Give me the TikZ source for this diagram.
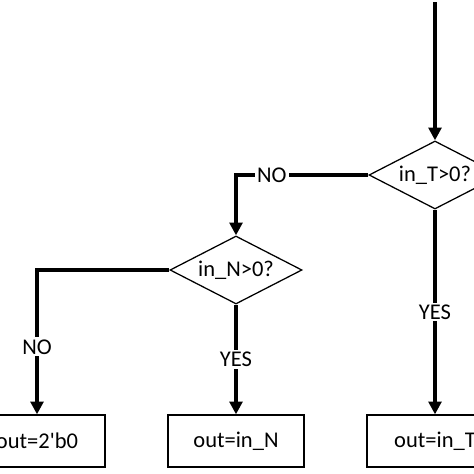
\documentclass[tikz,border=0pt]{standalone}
\usepackage{fontspec}
\setmainfont{Carlito}
\usetikzlibrary{shapes.geometric,arrows.meta,positioning}

\begin{document}
\begin{tikzpicture}[
  x=0.025cm, y=-0.025cm,
  decision/.style={draw,diamond,aspect=2,inner sep=0pt,line width=0.9pt,
    minimum width=3.3cm,minimum height=1.7cm,font=\fontsize{16}{18}\selectfont},
  outbox/.style={draw,rectangle,line width=0.9pt,minimum width=3.4cm,
    minimum height=1.3cm,font=\fontsize{16}{18}\selectfont},
  flow/.style={line width=2.6pt,-{Triangle[length=0.32cm,width=0.32cm]}},
  ]
  \tikzset{%
    on line/.style={
      fill=white,
      inner sep=1.5pt,
      font=\fontsize{16}{18}\selectfont,
    },
  }
  \useasboundingbox (0,0) rectangle (474,474);
  \clip (0,0) rectangle (474,474);
  %Nodes
  \coordinate (start) at (435,2);
  \node[decision](dT) at (435,175){in\_T>0?};
  \node[decision](dN) at (236,270){in\_N>0?};
  \node[outbox](b0) at (37,441){out=2\textquotesingle b0};
  \node[outbox](bN) at (236,441){out=in\_N};
  \node[outbox](bT) at (435,441){out=in\_T};
  %Lines
  \draw[flow] (start) -- (dT.north);
  \draw[flow] (dT.west) -| node[on line,pos=0.365]{NO} (dN.north);
  \draw[flow] (dT.south) -- node[on line,pos=0.5]{YES} (bT.north);
  \draw[flow] (dN.west) -| node[on line,pos=0.766]{NO} (b0.north);
  \draw[flow] (dN.south) -- node[on line,pos=0.5]{YES} (bN.north);
\end{tikzpicture}
\end{document}
